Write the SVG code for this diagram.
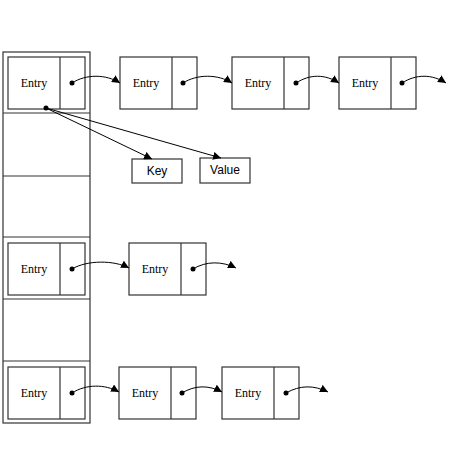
<svg xmlns="http://www.w3.org/2000/svg" width="474" height="474" viewBox="0 0 474 474">
<defs>
<marker id="arr" viewBox="0 0 10 10" refX="10" refY="5" markerWidth="8" markerHeight="8" markerUnits="userSpaceOnUse" orient="auto">
<path d="M0,0 L10,5 L0,10 z" fill="#000"/>
</marker>
<style>
.b{fill:#fff;stroke:#333;stroke-width:1.2}
.l{stroke:#333;stroke-width:1.2}
.e{font-family:"Liberation Serif",serif;font-size:12px;text-anchor:middle;fill:#000}
.s{font-family:"Liberation Sans",sans-serif;font-size:12px;text-anchor:middle;fill:#000}
.c{fill:none;stroke:#000;stroke-width:1;marker-end:url(#arr)}
.d{fill:#000}
</style>
</defs>
<rect width="474" height="474" fill="#fff"/>
<g id="table">
<rect class="b" x="3" y="52" width="87" height="371"/>
<line class="l" x1="3" y1="113" x2="90" y2="113"/>
<line class="l" x1="3" y1="176" x2="90" y2="176"/>
<line class="l" x1="3" y1="237" x2="90" y2="237"/>
<line class="l" x1="3" y1="299" x2="90" y2="299"/>
<line class="l" x1="3" y1="361" x2="90" y2="361"/>
</g>
<g id="r1e1"><rect class="b" x="8" y="57" width="77" height="52"/><line class="l" x1="60" y1="57" x2="60" y2="109"/><text class="e" x="34" y="87">Entry</text><circle class="d" cx="72" cy="83" r="2.5"/><circle class="d" cx="46" cy="108" r="2.5"/></g>
<g id="r1e2"><rect class="b" x="120" y="57" width="77" height="52"/><line class="l" x1="172" y1="57" x2="172" y2="109"/><text class="e" x="146" y="87">Entry</text><circle class="d" cx="183" cy="83" r="2.5"/></g>
<g id="r1e3"><rect class="b" x="232" y="57" width="77" height="52"/><line class="l" x1="284" y1="57" x2="284" y2="109"/><text class="e" x="258" y="87">Entry</text><circle class="d" cx="296" cy="83" r="2.5"/></g>
<g id="r1e4"><rect class="b" x="339" y="57" width="77" height="52"/><line class="l" x1="391" y1="57" x2="391" y2="109"/><text class="e" x="365" y="87">Entry</text><circle class="d" cx="402" cy="83" r="2.5"/></g>
<g id="key"><rect class="b" x="132" y="159" width="50" height="24"/><text class="s" x="157" y="175">Key</text></g>
<g id="value"><rect class="b" x="200" y="158" width="50" height="25"/><text class="s" x="225" y="174">Value</text></g>
<g id="r4e1"><rect class="b" x="8" y="243" width="77" height="52"/><line class="l" x1="60" y1="243" x2="60" y2="295"/><text class="e" x="34" y="273">Entry</text><circle class="d" cx="72" cy="269" r="2.5"/></g>
<g id="r4e2"><rect class="b" x="129" y="243" width="77" height="52"/><line class="l" x1="181" y1="243" x2="181" y2="295"/><text class="e" x="155" y="273">Entry</text><circle class="d" cx="193" cy="269" r="2.5"/></g>
<g id="r6e1"><rect class="b" x="8" y="367" width="77" height="52"/><line class="l" x1="60" y1="367" x2="60" y2="419"/><text class="e" x="34" y="397">Entry</text><circle class="d" cx="72" cy="393" r="2.5"/></g>
<g id="r6e2"><rect class="b" x="119" y="367" width="77" height="52"/><line class="l" x1="171" y1="367" x2="171" y2="419"/><text class="e" x="145" y="397">Entry</text><circle class="d" cx="182" cy="393" r="2.5"/></g>
<g id="r6e3"><rect class="b" x="222" y="367" width="77" height="52"/><line class="l" x1="274" y1="367" x2="274" y2="419"/><text class="e" x="248" y="397">Entry</text><circle class="d" cx="286" cy="393" r="2.5"/></g>
<g id="connectors">
<path class="c" d="M72,83 C86,74 106,74 120,83"/>
<path class="c" d="M183,83 C197,74 218,74 232,83"/>
<path class="c" d="M296,83 C310,74 325,74 339,83"/>
<path class="c" d="M402,83 C416,74 432,74 446,83"/>
<path class="c" d="M46,108 L152,159"/>
<path class="c" d="M46,108 L221,158"/>
<path class="c" d="M72,269 C87,260 114,260 129,268"/>
<path class="c" d="M193,269 C206,261 222,261 236,268"/>
<path class="c" d="M72,393 C86,384 105,384 119,392"/>
<path class="c" d="M182,393 C195,385 209,385 222,392"/>
<path class="c" d="M286,393 C300,385 314,385 328,392"/>
</g>
</svg>
